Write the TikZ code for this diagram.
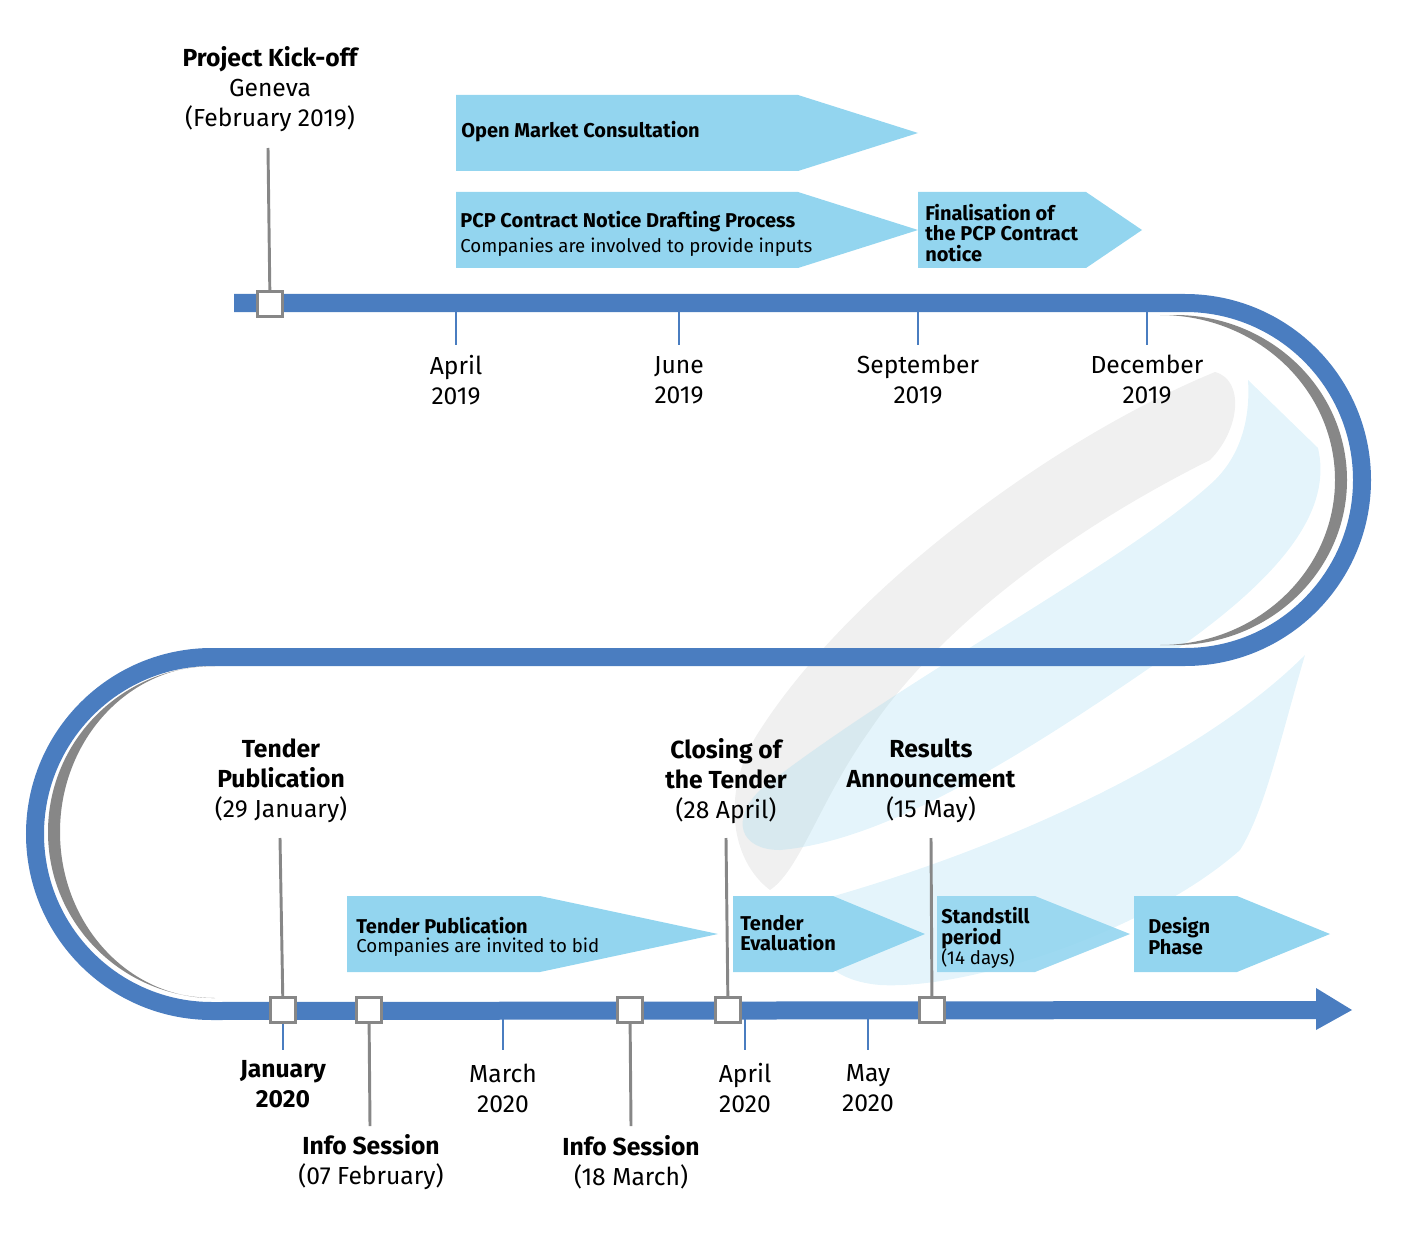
\documentclass[tikz,border=0pt]{standalone}
\usepackage{fontspec}
\setmainfont{Fira Sans}
\begin{document}
\begin{tikzpicture}[x=0.75pt,y=-0.75pt,
 blu/.style={line width=13.5pt,draw=blueM},
 tick/.style={line width=2.2pt,draw=blueM},
 conn/.style={line width=2.2pt,draw=greyM},
 sq/.style={draw=greyM,line width=2.2pt,fill=white,minimum size=19pt,inner sep=0pt},
 lbl/.style={align=center,font=\fontsize{18.5}{22.5}\selectfont,text=black},
 arr/.style={fill=lightB},
 btxt/.style={align=left,anchor=west,font=\fontsize{15}{15.5}\selectfont\bfseries,inner sep=0pt},
 stxt/.style={align=left,anchor=west,font=\fontsize{14}{14}\selectfont,inner sep=0pt}]
\definecolor{blueM}{HTML}{4A7DC0}
\definecolor{greyM}{HTML}{878787}
\definecolor{lightB}{HTML}{93D5EF}
\useasboundingbox (0,0) rectangle (1406,1241);
% background decorative shapes
\fill[gray!12] (1215,372) .. controls (1245,380) and (1240,430) .. (1210,460)
  .. controls (1050,540) and (930,640) .. (870,730)
  .. controls (820,800) and (800,870) .. (770,890)
  .. controls (730,860) and (720,790) .. (760,730)
  .. controls (850,590) and (1050,440) .. cycle;
\fill[lightB,opacity=0.25] (1248,380) -- (1318,448)
  .. controls (1330,500) and (1300,560) .. (1190,640)
  .. controls (1060,730) and (900,840) .. (780,850)
  .. controls (740,850) and (730,820) .. (760,790)
  .. controls (900,680) and (1130,560) .. (1215,480)
  .. controls (1245,450) and (1250,410) .. cycle;
\fill[lightB,opacity=0.25] (1305,655) .. controls (1280,740) and (1265,810) .. (1240,850)
  .. controls (1150,930) and (970,990) .. (880,985)
  .. controls (820,980) and (800,940) .. (820,900)
  .. controls (1000,850) and (1200,760) .. cycle;
% main track
\draw[blu] (234,303) -- (1185,303) arc[start angle=-90,end angle=90,radius=177] -- (212,657)
  arc[start angle=-90,end angle=-270,radius=177] -- (1320,1010);
\fill[blueM] (1316,988) -- (1352,1010) -- (1316,1030) -- cycle;
\fill[greyM] (1175,315) arc[start angle=-90,end angle=90,x radius=172,y radius=165] -- (1160,645)
  arc[start angle=90,end angle=-90,x radius=175,y radius=165] -- cycle;
\fill[greyM] (215,666) arc[start angle=-90,end angle=-270,x radius=167,y radius=166] -- (212,998)
  arc[start angle=-270,end angle=-90,x radius=152,y radius=166] -- cycle;
% ticks
\foreach \x in {456,679,918,1147} \draw[tick] (\x,312) -- (\x,345);
\foreach \x in {283,503,745,868} \draw[tick] (\x,1018) -- (\x,1050);
% axis labels
\node[lbl] (ta) at (456,380) {April\\2019};
\node[lbl] (tj) at (679,380) {June\\2019};
\node[lbl] (ts) at (918,380) {September\\2019};
\node[lbl] (td) at (1147,380) {December\\2019};
\node[lbl] (bj) at (283,1084) {\bfseries January\\\bfseries 2020};
\node[lbl] (bm) at (503,1088) {March\\2020};
\node[lbl] (ba) at (745,1088) {April\\2020};
\node[lbl] (bmy) at (868,1088) {May\\2020};
% arrows (light blue)
\fill[arr] (456,95) -- (798,95) -- (918,133) -- (798,171) -- (456,171) -- cycle;
\fill[arr] (456,192) -- (798,192) -- (918,230) -- (798,268) -- (456,268) -- cycle;
\fill[arr] (918,192) -- (1086,192) -- (1142,230) -- (1086,268) -- (918,268) -- cycle;
\fill[arr] (347,896) -- (540,896) -- (718,934) -- (540,972) -- (347,972) -- cycle;
\fill[arr] (733,896) -- (833,896) -- (925,934) -- (833,972) -- (733,972) -- cycle;
\fill[arr,opacity=0.9] (937,896) -- (1035,896) -- (1130,934) -- (1035,972) -- (937,972) -- cycle;
\fill[arr] (1134,896) -- (1237,896) -- (1330,934) -- (1237,972) -- (1134,972) -- cycle;
\node[btxt] (a1) at (461,132) {Open Market Consultation};
\node[btxt] (a2) at (460,222) {PCP Contract Notice Drafting Process};
\node[stxt] (a2s) at (460,247) {Companies are involved to provide inputs};
\node[btxt] (a3) at (925,233) {Finalisation of\\the PCP Contract\\notice};
\node[btxt] (a4) at (356,926) {Tender Publication};
\node[stxt] (a4s) at (356,947) {Companies are invited to bid};
\node[btxt] (a5) at (740,933) {Tender\\Evaluation};
\node[btxt] (a6) at (941,928) {Standstill\\period};
\node[stxt] (a6s) at (941,959) {(14 days)};
\node[btxt] (a7) at (1148,936) {Design\\Phase};
% milestones
\node[sq] (m0) at (270,304) {};
\node[lbl] (l0) at (270,89) {\bfseries Project Kick-off\\Geneva\\(February 2019)};
\coordinate (c0) at (268,148);
\draw[conn] (c0) -- (m0);
\node[sq] (m1) at (283,1010) {};
\node[sq] (m2) at (369,1010) {};
\node[sq] (m3) at (630,1010) {};
\node[sq] (m4) at (728,1010) {};
\node[sq] (m5) at (932,1010) {};
\node[lbl] (l1) at (281,781) {\bfseries Tender\\\bfseries Publication\\(29 January)};
\node[lbl] (l2) at (371,1162) {\bfseries Info Session\\(07 February)};
\node[lbl] (l3) at (631,1162) {\bfseries Info Session\\(18 March)};
\node[lbl] (l4) at (726,781) {\bfseries Closing of\\\bfseries the Tender\\(28 April)};
\node[lbl] (l5) at (931,781) {\bfseries Results\\\bfseries Announcement\\(15 May)};
\coordinate (c1) at (280,838); \coordinate (c4) at (726,838); \coordinate (c5) at (931,838);
\coordinate (c2) at (370,1126); \coordinate (c3) at (631,1126);
\draw[conn] (c1) -- (m1); \draw[conn] (c4) -- (m4); \draw[conn] (c5) -- (m5);
\draw[conn] (m2) -- (c2); \draw[conn] (m3) -- (c3);
\end{tikzpicture}
\end{document}
